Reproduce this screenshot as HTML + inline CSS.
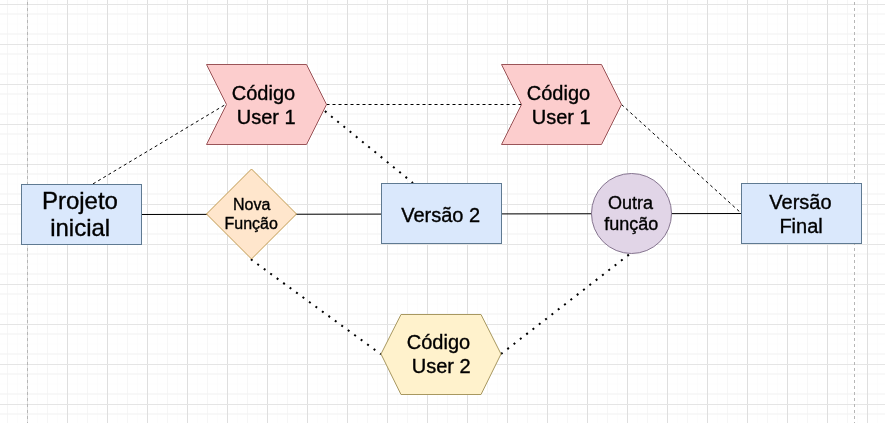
<!DOCTYPE html>
<html><head><meta charset="utf-8">
<style>
html,body{margin:0;padding:0;background:#fff;width:885px;height:423px;overflow:hidden}
svg{position:absolute;left:0;top:0;will-change:transform}
text{font-family:"Liberation Sans",sans-serif;fill:#000;stroke:#000;stroke-width:0.35px}
</style></head><body>
<svg width="885" height="423" viewBox="0 0 885 423">
<defs>
<pattern id="vmaj" x="27" y="0" width="40" height="423" patternUnits="userSpaceOnUse"><rect x="0" y="0" width="1" height="423" fill="#dfdfdf"/></pattern>
<pattern id="vmed" x="47" y="0" width="40" height="423" patternUnits="userSpaceOnUse"><rect x="0" y="0" width="1" height="423" fill="#f6f6f6"/></pattern>
<pattern id="vfnt" x="37" y="0" width="20" height="423" patternUnits="userSpaceOnUse"><rect x="0" y="0" width="1" height="423" fill="#fcfcfc"/></pattern>
<pattern id="hmaj" x="0" y="4" width="885" height="40" patternUnits="userSpaceOnUse"><rect x="0" y="0" width="885" height="1" fill="#e5e5e5"/></pattern>
<pattern id="hmed" x="0" y="13.5" width="885" height="20" patternUnits="userSpaceOnUse"><rect x="0" y="0" width="885" height="1" fill="#f1f1f1"/></pattern>
<pattern id="hfnt" x="0" y="23.5" width="885" height="40" patternUnits="userSpaceOnUse"><rect x="0" y="0" width="885" height="1" fill="#fcfcfc"/></pattern>
</defs>
<rect width="885" height="423" fill="#fff"/>
<rect width="885" height="423" fill="url(#vfnt)"/>
<rect width="885" height="423" fill="url(#hfnt)"/>
<rect width="885" height="423" fill="url(#vmed)"/>
<rect width="885" height="423" fill="url(#hmed)"/>
<rect width="885" height="423" fill="url(#vmaj)"/>
<rect width="885" height="423" fill="url(#hmaj)"/>
<!-- page borders -->
<path d="M27.5 0V423M854.5 0V423" stroke="#b6b6b6" stroke-width="1" stroke-dasharray="3 3" stroke-dashoffset="-2"/>

<!-- edges -->
<path d="M141.5 214.5L741.5 213.5" stroke="#000" stroke-width="1" fill="none"/>
<path d="M93 183.9L226.5 103.9" stroke="#000" stroke-width="1" stroke-dasharray="3 3" fill="none"/>
<path d="M326.5 104.5H521.5" stroke="#000" stroke-width="1" stroke-dasharray="3 3" fill="none"/>
<path d="M621.5 104.5L741 213" stroke="#000" stroke-width="1" stroke-dasharray="3 3" fill="none"/>
<path d="M324.9 111.1L413 183" stroke="#000" stroke-width="2" stroke-dasharray="2 6" fill="none"/>
<path d="M250.9 259.3L381 354.3" stroke="#000" stroke-width="2" stroke-dasharray="2 6" fill="none"/>
<path d="M501 354L631 253" stroke="#000" stroke-width="2" stroke-dasharray="2 6" fill="none"/>

<!-- shapes -->
<rect x="21.5" y="184.5" width="120" height="60" fill="#dae8fc" stroke="#5f7a92"/>
<path d="M251.5 169L296.5 214L251.5 259L206.5 214Z" fill="#ffe6cc" stroke="#c09a50"/>
<rect x="381.5" y="183.5" width="120" height="60" fill="#dae8fc" stroke="#5f7a92"/>
<path d="M206.5 64.5H306.5L326.5 104.5L306.5 144.5H206.5L226.5 104.5Z" fill="#fccdcd" stroke="#9a5458"/>
<path d="M501.5 64.5H601.5L621.5 104.5L601.5 144.5H501.5L521.5 104.5Z" fill="#fccdcd" stroke="#9a5458"/>
<circle cx="631.5" cy="213.5" r="40" fill="#e1d5e7" stroke="#85748f"/>
<rect x="741.5" y="183.5" width="120" height="60" fill="#dae8fc" stroke="#5f7a92"/>
<path d="M381 354L401 314.5H481L501 354L481 394.5H401Z" fill="#fff2cc" stroke="#a89860"/>

<!-- text -->
<g text-anchor="middle">
<text x="79.9" y="208.5" font-size="24">Projeto</text>
<text x="80.2" y="236" font-size="24">inicial</text>
<text x="263.45" y="100.3" font-size="20">Código</text>
<text x="266.15" y="124" font-size="20">User 1</text>
<text x="558.45" y="100.3" font-size="20">Código</text>
<text x="561.15" y="124" font-size="20">User 1</text>
<text x="251.7" y="209.9" font-size="16">Nova</text>
<text x="251.15" y="228.5" font-size="16">Função</text>
<text x="440.65" y="221.8" font-size="20">Versão 2</text>
<text x="630.4" y="208.8" font-size="18">Outra</text>
<text x="631.2" y="230" font-size="18">função</text>
<text x="800.4" y="209.3" font-size="20">Versão</text>
<text x="801.1" y="233.3" font-size="20">Final</text>
<text x="438.45" y="349.3" font-size="20">Código</text>
<text x="441.15" y="372.5" font-size="20">User 2</text>
</g>
</svg>
</body></html>
